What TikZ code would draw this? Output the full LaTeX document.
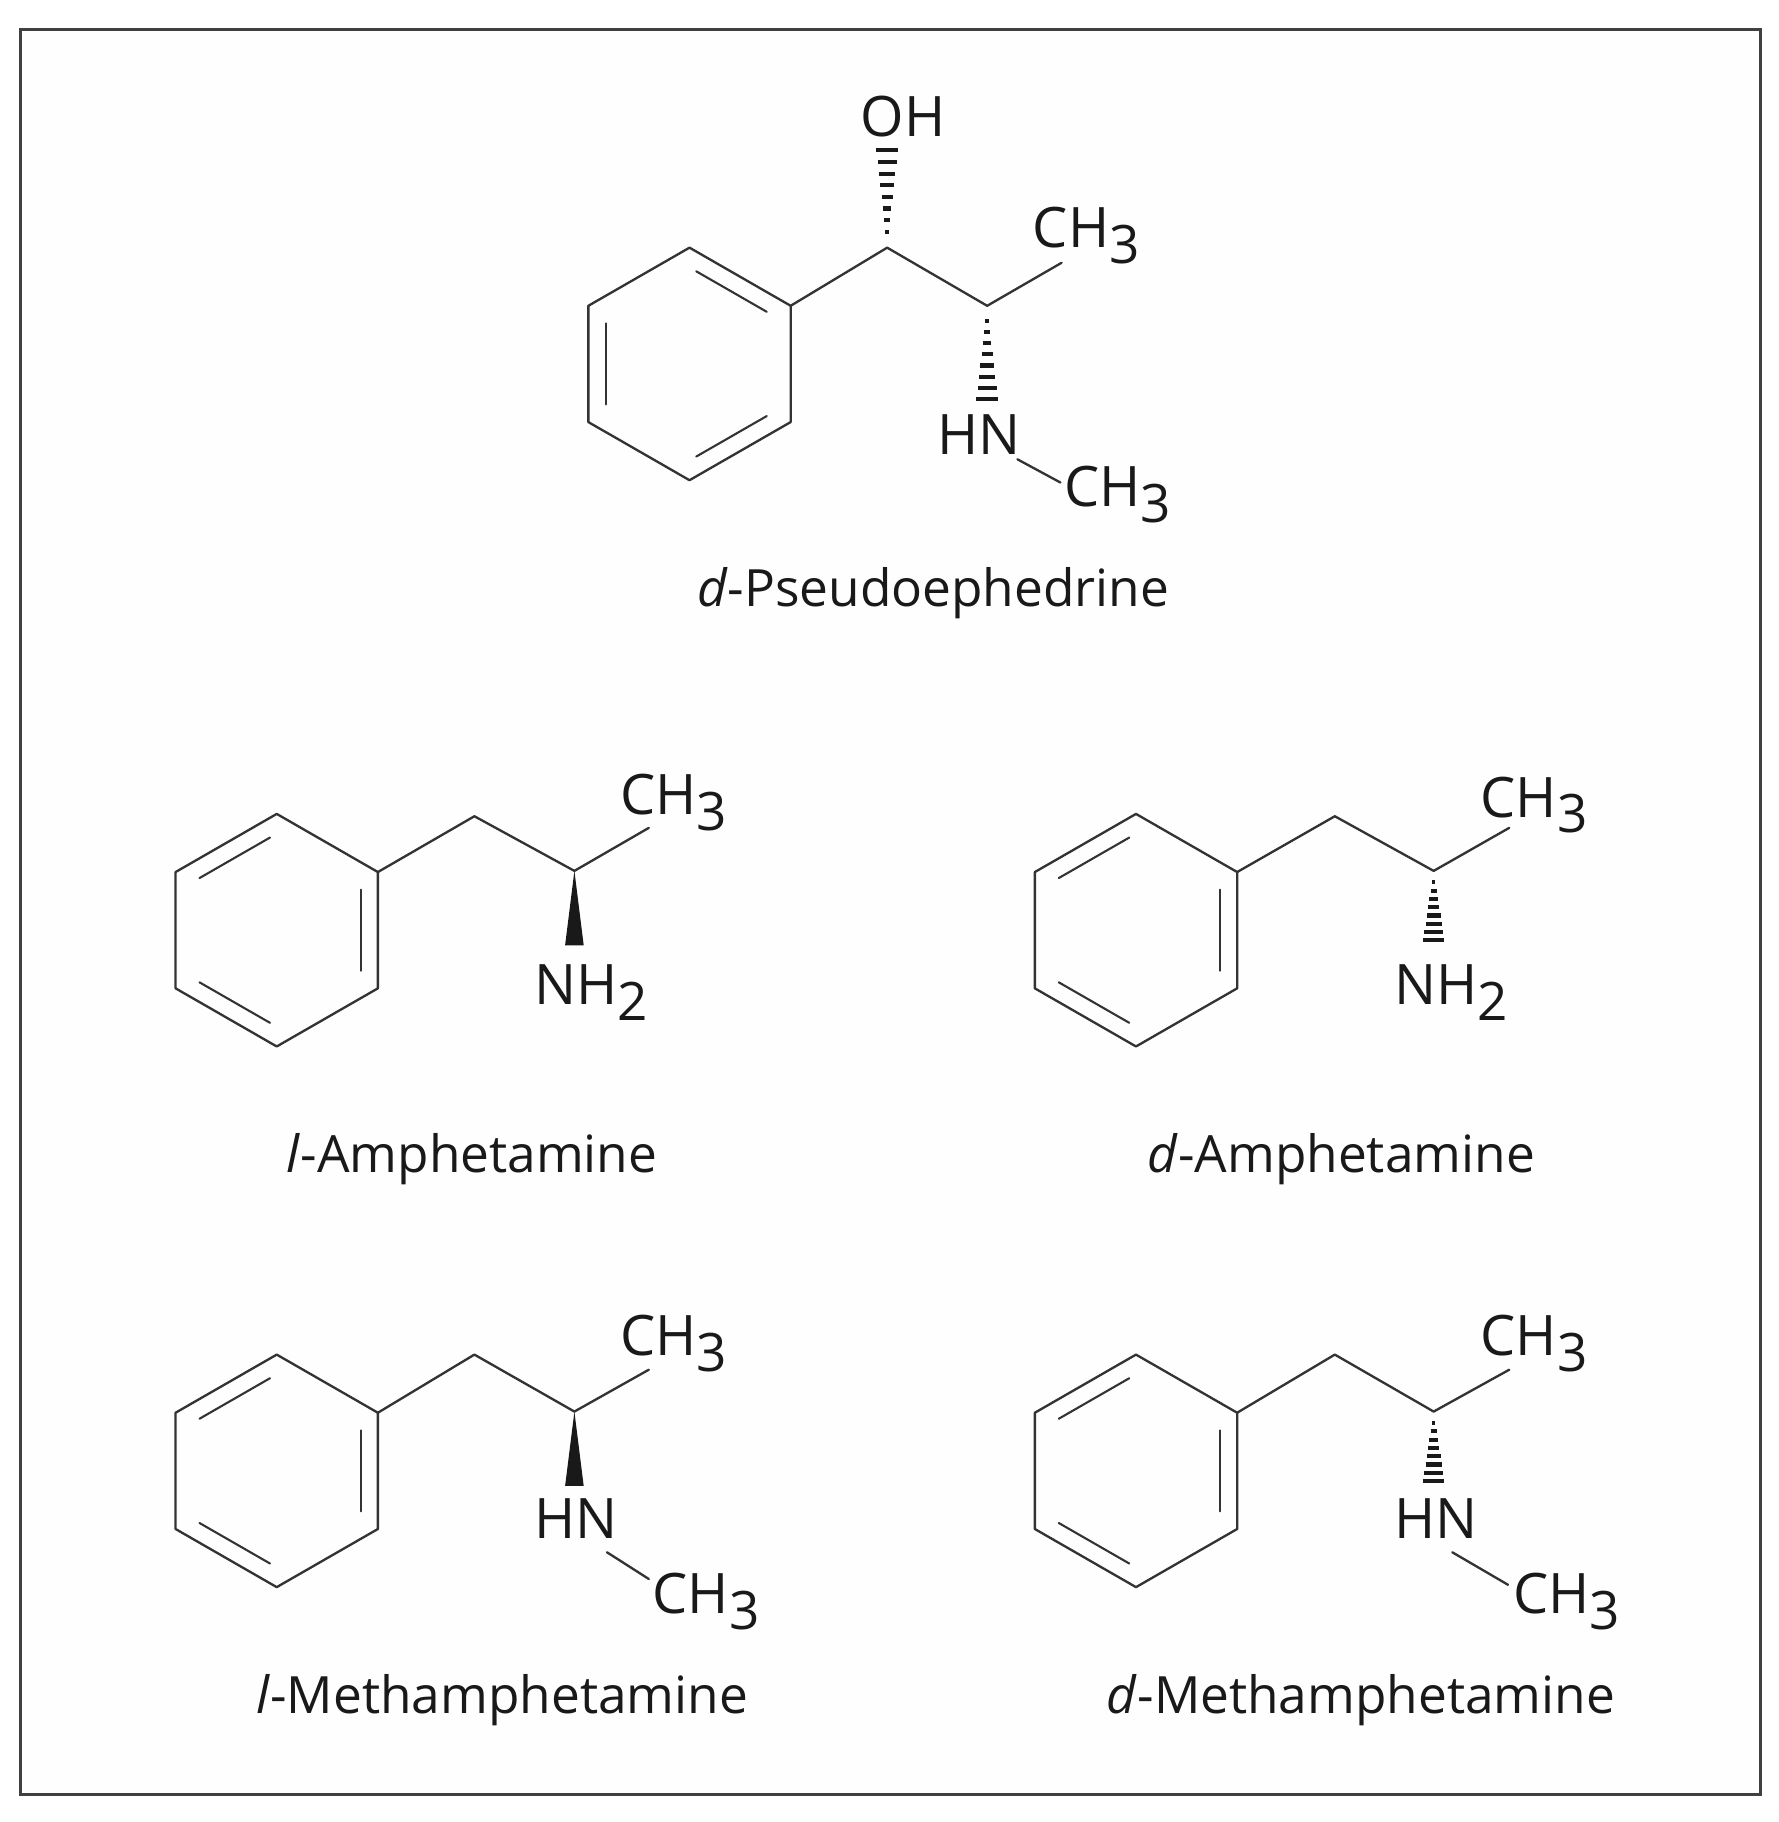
\documentclass[tikz,border=0pt]{standalone}
\usepackage{fontspec}
\setmainfont{Open Sans}
\usetikzlibrary{calc}

\begin{document}
\begin{tikzpicture}[
    x=0.5pt, y=-0.5pt,
    bond/.style={line width=1pt,draw=black!80,line cap=round,line join=round},
    inner bond/.style={bond,line width=0.9pt},
    atom label/.style={anchor=base west,inner sep=0pt,xshift=-1pt,yshift=0.6pt,font=\fontsize{24}{24}\selectfont,text=black!90},
    name label/.style={anchor=base,inner sep=0pt,yshift=0.8pt,font=\fontsize{22.1}{24}\selectfont,text=black!90},
    frame line/.style={line width=1.25pt,draw=black!75,fill=black!0.5}
]
    \useasboundingbox (0,0) rectangle (1530,1567);
    \def\idx#1{\raisebox{-0.28em}{\scalebox{0.95}{#1}}}
    % benzene ring, the top corner is the origin of the scope
    \def\phenyl{
        \coordinate (r1) at (0,0);
        \coordinate (r2) at (87,50);
        \coordinate (r3) at (87,150);
        \coordinate (r4) at (0,200);
        \coordinate (r5) at (-87,150);
        \coordinate (r6) at (-87,50);
        \coordinate (ctr) at (0,100);
        \draw[bond] (r1) -- (r2) -- (r3) -- (r4) -- (r5) -- (r6) -- cycle;
    }
    \def\inner#1#2{\draw[inner bond] ($(#1)!.08!(#2)!.17!(ctr)$) -- ($(#2)!.08!(#1)!.17!(ctr)$);}
    \def\wedge#1#2{\fill[black!90] (#1) -- ($(#2)+(-8,0)$) -- ($(#2)+(8,0)$) -- cycle;}
    \def\hash#1#2{
        \foreach \t in {0.15,0.26,...,1.0} {
            \draw[line width=1.75pt,black!90] ($(#1)!\t!(#2)+(-10*\t,0)$) -- ($(#1)!\t!(#2)+(10*\t,0)$);
        }
    }

    \draw[frame line] (18,25) coordinate (tl) rectangle (1514,1543) coordinate (br);

    % d-pseudoephedrine
    \begin{scope}[shift={(593,213)},name prefix=ps-]
        \phenyl
        \inner{r1}{r2} \inner{r3}{r4} \inner{r5}{r6}
        \coordinate (c1) at (170,0);
        \coordinate (c2) at (256,50);
        \coordinate (me) at (320,13);
        \coordinate (o) at (170,-91);
        \coordinate (n) at (256,137);
        \coordinate (nb) at (282,182);
        \coordinate (nm) at (319,202);
        \draw[bond] (r2) -- (c1) -- (c2) -- (me);
        \draw[bond] (nb) -- (nm);
        \hash{c1}{o}
        \hash{c2}{n}
        \node[atom label] (oh) at (149,-94) {OH};
        \node[atom label] (ch1) at (297,1) {CH\idx{3}};
        \node[atom label] (hn) at (215,179) {HN};
        \node[atom label] (ch2) at (324,224) {CH\idx{3}};
        \node[name label] (title) at (209.5,310) {\textit{d}-Pseudoephedrine};
    \end{scope}

    % l-amphetamine
    \begin{scope}[shift={(238,700)},name prefix=la-]
        \phenyl
        \inner{r6}{r1} \inner{r2}{r3} \inner{r4}{r5}
        \coordinate (c1) at (170,2);
        \coordinate (c2) at (256,49);
        \coordinate (me) at (320,12);
        \coordinate (n) at (256,113);
        \draw[bond] (r2) -- (c1) -- (c2) -- (me);
        \wedge{c2}{n}
        \node[atom label] (ch1) at (297,2) {CH\idx{3}};
        \node[atom label] (nh) at (223,165) {NH\idx{2}};
        \node[name label] (title) at (168,310) {\textit{l}-Amphetamine};
    \end{scope}

    % d-amphetamine
    \begin{scope}[shift={(977,700)},name prefix=da-]
        \phenyl
        \inner{r6}{r1} \inner{r2}{r3} \inner{r4}{r5}
        \coordinate (c1) at (171,2);
        \coordinate (c2) at (256,49);
        \coordinate (me) at (321,12);
        \coordinate (n) at (256,114);
        \draw[bond] (r2) -- (c1) -- (c2) -- (me);
        \hash{c2}{n}
        \node[atom label] (ch1) at (298,4) {CH\idx{3}};
        \node[atom label] (nh) at (224,165) {NH\idx{2}};
        \node[name label] (title) at (176.5,310) {\textit{d}-Amphetamine};
    \end{scope}

    % l-methamphetamine
    \begin{scope}[shift={(238,1165)},name prefix=lm-]
        \phenyl
        \inner{r6}{r1} \inner{r2}{r3} \inner{r4}{r5}
        \coordinate (c1) at (170,0);
        \coordinate (c2) at (256,49);
        \coordinate (me) at (320,13);
        \coordinate (n) at (256,113);
        \coordinate (nb) at (284,170);
        \coordinate (nm) at (320,193);
        \draw[bond] (r2) -- (c1) -- (c2) -- (me);
        \draw[bond] (nb) -- (nm);
        \wedge{c2}{n}
        \node[atom label] (ch1) at (297,2) {CH\idx{3}};
        \node[atom label] (hn) at (223,159) {HN};
        \node[atom label] (ch2) at (325,224) {CH\idx{3}};
        \node[name label] (title) at (194,310) {\textit{l}-Methamphetamine};
    \end{scope}

    % d-methamphetamine
    \begin{scope}[shift={(977,1165)},name prefix=dm-]
        \phenyl
        \inner{r6}{r1} \inner{r2}{r3} \inner{r4}{r5}
        \coordinate (c1) at (171,0);
        \coordinate (c2) at (256,49);
        \coordinate (me) at (321,13);
        \coordinate (n) at (256,114);
        \coordinate (nb) at (272,170);
        \coordinate (nm) at (320,198);
        \draw[bond] (r2) -- (c1) -- (c2) -- (me);
        \draw[bond] (nb) -- (nm);
        \hash{c2}{n}
        \node[atom label] (ch1) at (298,2) {CH\idx{3}};
        \node[atom label] (hn) at (224,159) {HN};
        \node[atom label] (ch2) at (326,224) {CH\idx{3}};
        \node[name label] (title) at (193.5,310) {\textit{d}-Methamphetamine};
    \end{scope}
\end{tikzpicture}
\end{document}
